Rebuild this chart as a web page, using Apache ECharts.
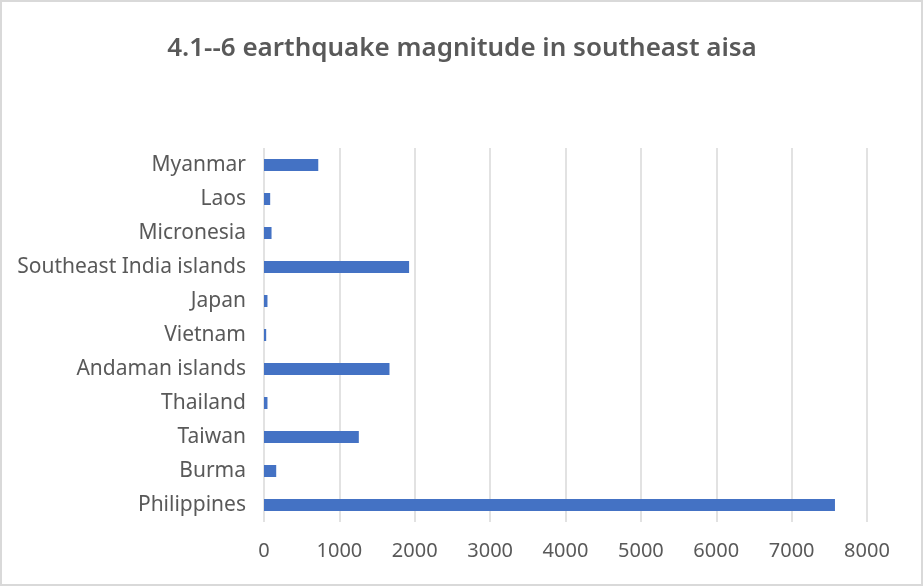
<!DOCTYPE html>
<html>
<head>
<meta charset="utf-8">
<title>earthquake magnitude</title>
<script src="https://cdn.jsdelivr.net/npm/echarts@6/dist/echarts.min.js"></script>
<style>
    html, body { margin: 0; padding: 0; background: #fff; }
    #frame {
        position: absolute; left: 0; top: 0;
        width: 919px; height: 582px;
        border: 2px solid #d9d9d9;
    }
    #chart { position: absolute; left: 0; top: 0; width: 924px; height: 587px; }
</style>
</head>
<body>
<div id="frame"></div>
<div id="chart"></div>
<script>
// bottom to top, as the category axis draws them
var countries = ['Philippines', 'Burma', 'Taiwan', 'Thailand', 'Andaman islands', 'Vietnam',
                 'Japan', 'Southeast India islands', 'Micronesia', 'Laos', 'Myanmar'];
var counts = [7575, 162, 1258, 46, 1665, 29, 46, 1925, 100, 82, 720];
var xTicks = [0, 1000, 2000, 3000, 4000, 5000, 6000, 7000, 8000];

var font = '"Noto Sans", sans-serif';
var myChart = echarts.init(document.getElementById('chart'));
option = {
    animation: false,
    title: {
        text: '4.1--6 earthquake magnitude in southeast aisa',
        left: 'center',
        top: 31,
        textStyle: { color: '#595959', fontSize: 26, fontWeight: 600, fontFamily: font }
    },
    grid: {
        left: 264,
        right: 57,
        top: 148,
        bottom: 65
    },
    xAxis: {
        type: 'value',
        min: xTicks[0],
        max: xTicks[xTicks.length - 1],
        interval: 1000,
        axisLine: { show: false },
        axisTick: { show: false },
        axisLabel: {
            color: '#595959', fontSize: 20, margin: 19, fontFamily: font,
            formatter: function (v) { return String(v); }
        },
        splitLine: { lineStyle: { color: '#d9d9d9', width: 1.5 } }
    },
    yAxis: {
        type: 'category',
        data: countries,
        axisLine: { show: false },
        axisTick: { show: false },
        axisLabel: { color: '#595959', fontSize: 21, margin: 18, padding: [4, 0, 0, 0], fontFamily: font }
    },
    series: [
        {
            type: 'bar',
            data: counts,
            barWidth: 12,
            itemStyle: { color: '#4472c4' }
        }
    ]
};
myChart.setOption(option);
</script>
</body>
</html>
